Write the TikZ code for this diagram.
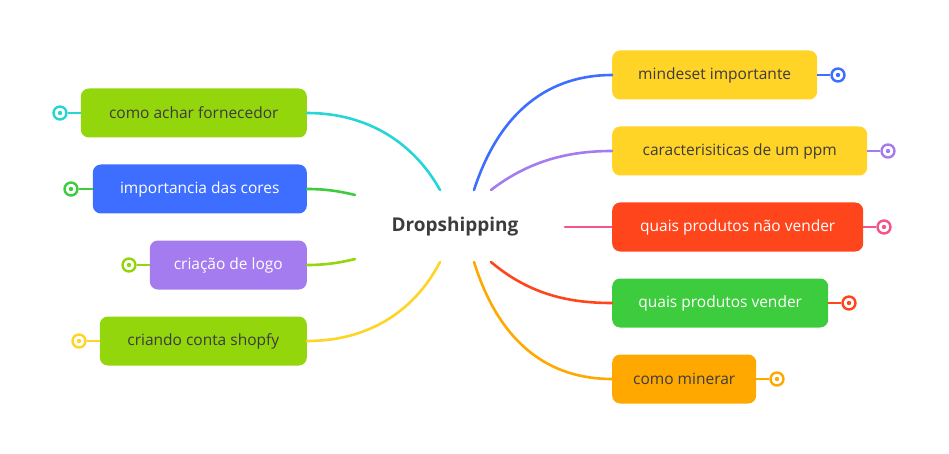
\documentclass[tikz,border=0pt]{standalone}
\usepackage{fontspec}
\setmainfont{Open Sans}
\definecolor{cyel}{RGB}{255,212,38}
\definecolor{cred}{RGB}{255,69,28}
\definecolor{cgrn}{RGB}{61,204,61}
\definecolor{corg}{RGB}{255,168,0}
\definecolor{clime}{RGB}{148,214,12}
\definecolor{cblue}{RGB}{61,110,255}
\definecolor{cpur}{RGB}{165,123,240}
\definecolor{ccyan}{RGB}{38,214,214}
\definecolor{cpink}{RGB}{242,85,138}
\definecolor{ctxt}{RGB}{60,60,60}
\begin{document}
\begin{tikzpicture}[x=1pt,y=-1pt,
  box/.style={rounded corners=8pt,minimum height=49pt,inner xsep=0pt,font=\fontsize{15.5pt}{18pt}\selectfont},
  dk/.style={text=ctxt},
  wt/.style={text=white},
  ln/.style={line width=2.6pt,line cap=round},
  end/.style={circle,draw,line width=2.4pt,fill=white,minimum size=13pt,inner sep=0pt}]
\useasboundingbox (0,0) rectangle (949,454);
\node[font=\bfseries\fontsize{19pt}{22pt}\selectfont,text=ctxt] (c) at (455,227) {Dropshipping};
% right
\node[box,dk,fill=cyel,anchor=west,minimum width=205pt] (r1) at (612,75) {mindeset importante};
\node[box,dk,fill=cyel,anchor=west,minimum width=255pt] (r2) at (612,151) {caracterisiticas de um ppm};
\node[box,wt,fill=cred,anchor=west,minimum width=251pt] (r3) at (612,227) {quais produtos não vender};
\node[box,wt,fill=cgrn,anchor=west,minimum width=216pt] (r4) at (612,303) {quais produtos vender};
\node[box,dk,fill=corg,anchor=west,minimum width=144pt] (r5) at (612,379) {como minerar};
% left
\node[box,dk,fill=clime,anchor=east,minimum width=226pt] (l1) at (307,113) {como achar fornecedor};
\node[box,wt,fill=cblue,anchor=east,minimum width=214pt] (l2) at (307,189) {importancia das cores};
\node[box,wt,fill=cpur,anchor=east,minimum width=157pt] (l3) at (307,265) {criação de logo};
\node[box,dk,fill=clime,anchor=east,minimum width=207pt] (l4) at (307,341) {criando conta shopfy};
% anchor coordinates near center
\coordinate (a1) at (474,190); \coordinate (a2) at (491,190);
\coordinate (a3) at (565,227); \coordinate (a4) at (491,262);
\coordinate (a5) at (474,262);
\coordinate (b1) at (440,190); \coordinate (b2) at (355,195);
\coordinate (b3) at (355,259); \coordinate (b4) at (440,262);
\draw[ln,cblue] (a1) .. controls (500,110) and (550,75) .. (r1.west);
\draw[ln,cpur] (a2) .. controls (530,160) and (570,151) .. (r2.west);
\draw[ln,cpink] (a3) -- (r3.west);
\draw[ln,cred] (a4) .. controls (530,295) and (570,303) .. (r4.west);
\draw[ln,corg] (a5) .. controls (500,345) and (550,379) .. (r5.west);
\draw[ln,ccyan] (b1) .. controls (415,145) and (370,113) .. (l1.east);
\draw[ln,cgrn] (b2) .. controls (335,190) and (320,189) .. (l2.east);
\draw[ln,clime] (b3) .. controls (335,264) and (320,265) .. (l3.east);
\draw[ln,cyel] (b4) .. controls (415,310) and (370,341) .. (l4.east);
% end circles
\foreach \n/\c/\x/\y/\s in {r1/cblue/838/75/east,r2/cpur/888/151/east,r3/cpink/884/227/east,r4/cred/849/303/east,r5/corg/777/379/east,l1/ccyan/60/113/west,l2/cgrn/71/189/west,l3/clime/129/265/west,l4/cyel/79/341/west}{
  \node[end,draw=\c] (e\n) at (\x,\y) {};
  \draw[line width=2.6pt,\c] (\n.\s) -- (e\n);
  \fill[\c] (e\n) circle (2.2pt);
}
\end{tikzpicture}
\end{document}
